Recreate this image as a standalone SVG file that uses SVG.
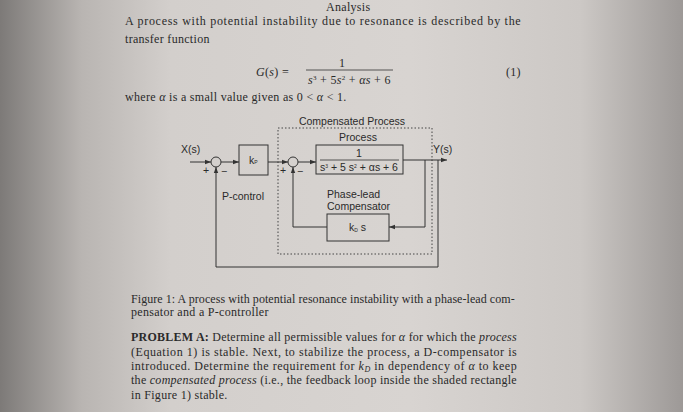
<svg xmlns="http://www.w3.org/2000/svg" width="683" height="412" viewBox="0 0 683 412">
<defs>
<linearGradient id="bg" x1="0" x2="1" y1="0" y2="0">
<stop offset="0" stop-color="#7d7a78"/><stop offset="0.12" stop-color="#b9b5b2"/><stop offset="0.25" stop-color="#d3cfcc"/><stop offset="0.6" stop-color="#d8d4d1"/><stop offset="0.85" stop-color="#ccc8c5"/><stop offset="1" stop-color="#9d9997"/>
</linearGradient>
<marker id="ar" markerWidth="6" markerHeight="6" refX="6" refY="3" orient="auto" markerUnits="userSpaceOnUse"><path d="M0,0.8 L6,3 L0,5.2z" fill="#333"/></marker>
<style>
.t{font-family:"Liberation Serif",serif;font-size:12px;letter-spacing:0.3px;fill:#2a2a2a}
.s{font-family:"Liberation Sans",sans-serif;font-size:10.5px;fill:#2a2a2a}
.b{fill:none;stroke:#333;stroke-width:1}
.w{stroke:#333;stroke-width:1;fill:none}
</style>
</defs>
<rect width="683" height="412" fill="url(#bg)"/>
<text class="t" x="326" y="11" font-size="8.5">Analysis</text>
<text class="t" x="125" y="25" textLength="396">A process with potential instability due to resonance is described by the</text>
<text class="t" x="125" y="43">transfer function</text>
<text class="t" x="256" y="76" font-style="italic">G</text><text class="t" x="265" y="76">(<tspan font-style="italic">s</tspan>) =</text>
<text class="t" x="339" y="67" font-size="10.5">1</text>
<line x1="306" y1="70" x2="393" y2="70" stroke="#333" stroke-width="0.8"/>
<text class="t" x="308" y="84" font-size="10.5"><tspan font-style="italic">s</tspan><tspan font-size="7" dy="-4">3</tspan><tspan dy="4"> + 5</tspan><tspan font-style="italic">s</tspan><tspan font-size="7" dy="-4">2</tspan><tspan dy="4"> + </tspan><tspan font-style="italic">αs</tspan> + 6</text>
<text class="t" x="506" y="76">(1)</text>
<text class="t" x="125" y="101">where <tspan font-style="italic">α</tspan> is a small value given as 0 &lt; <tspan font-style="italic">α</tspan> &lt; 1.</text>

<g id="labels">
<text class="s" x="352" y="125" text-anchor="middle">Compensated Process</text>
<text class="s" x="358" y="141" text-anchor="middle">Process</text>
<text class="s" x="181" y="153">X(s)</text>
<text class="s" x="433" y="153">Y(s)</text>
<text class="s" x="222" y="200">P-control</text>
<text class="s" x="327" y="198">Phase-lead</text>
<text class="s" x="327" y="210">Compensator</text>
<text class="s" x="203" y="174" font-size="8">+</text><text class="s" x="221" y="175" font-size="9">−</text>
<text class="s" x="280" y="174" font-size="8">+</text><text class="s" x="297" y="175" font-size="9">−</text>
</g>
<rect id="compensated" x="278" y="128" width="154" height="126" fill="none" stroke="#444" stroke-width="1" stroke-dasharray="1.5,2"/>
<g id="sum1"><circle cx="216" cy="162" r="5" class="b"/></g>
<g id="kp"><rect x="239" y="145" width="29" height="30" class="b"/><text class="s" x="249" y="164" font-size="7">k<tspan font-size="5">P</tspan></text></g>
<g id="sum2"><circle cx="293" cy="162" r="5" class="b"/></g>
<g id="process"><rect x="316" y="145" width="87" height="29" class="b"/>
<text class="s" x="359" y="157" text-anchor="middle" font-size="8.5">1</text>
<line x1="320" y1="160" x2="399" y2="160" stroke="#333" stroke-width="0.8"/>
<text class="s" x="359" y="171" text-anchor="middle" font-size="8.5">s<tspan font-size="5" dy="-3">3</tspan><tspan dy="3"> + 5 s</tspan><tspan font-size="5" dy="-3">2</tspan><tspan dy="3"> + αs + 6</tspan></text></g>
<g id="comp"><rect x="327" y="214" width="62" height="27" class="b"/><text class="s" x="349" y="231" font-size="8.5">k<tspan font-size="5" dy="1">D</tspan><tspan dy="-1"> s</tspan></text></g>
<g id="connectors">
<line x1="190" y1="162" x2="211" y2="162" class="w" marker-end="url(#ar)"/>
<line x1="221" y1="162" x2="239" y2="162" class="w" marker-end="url(#ar)"/>
<line x1="268" y1="162" x2="288" y2="162" class="w" marker-end="url(#ar)"/>
<line x1="298" y1="162" x2="316" y2="162" class="w" marker-end="url(#ar)"/>
<line x1="403" y1="160" x2="447" y2="160" class="w" marker-end="url(#ar)"/>
<polyline points="425,160 425,227 389,227" class="w" marker-end="url(#ar)"/>
<polyline points="327,227 293,227 293,167" class="w" marker-end="url(#ar)"/>
<polyline points="438,160 438,267 216,267 216,167" class="w" marker-end="url(#ar)"/>
</g>
<text class="t" x="131" y="303" font-size="10.5" textLength="384">Figure 1:  A process with potential resonance instability with a phase-lead com-</text>
<text class="t" x="131" y="316" font-size="10.5">pensator and a P-controller</text>
<text class="t" x="131" y="341" textLength="386"><tspan font-weight="bold">PROBLEM A:</tspan> Determine all permissible values for <tspan font-style="italic">α</tspan> for which the <tspan font-style="italic">process</tspan></text>
<text class="t" x="131" y="356" textLength="386">(Equation 1) is stable. Next, to stabilize the process, a D-compensator is</text>
<text class="t" x="131" y="370" textLength="386">introduced. Determine the requirement for <tspan font-style="italic">k<tspan font-size="8" dy="2">D</tspan></tspan><tspan dy="-2"> in dependency of </tspan><tspan font-style="italic">α</tspan> to keep</text>
<text class="t" x="131" y="384" textLength="386">the <tspan font-style="italic">compensated process</tspan> (i.e., the feedback loop inside the shaded rectangle</text>
<text class="t" x="131" y="399">in Figure 1) stable.</text>
</svg>
